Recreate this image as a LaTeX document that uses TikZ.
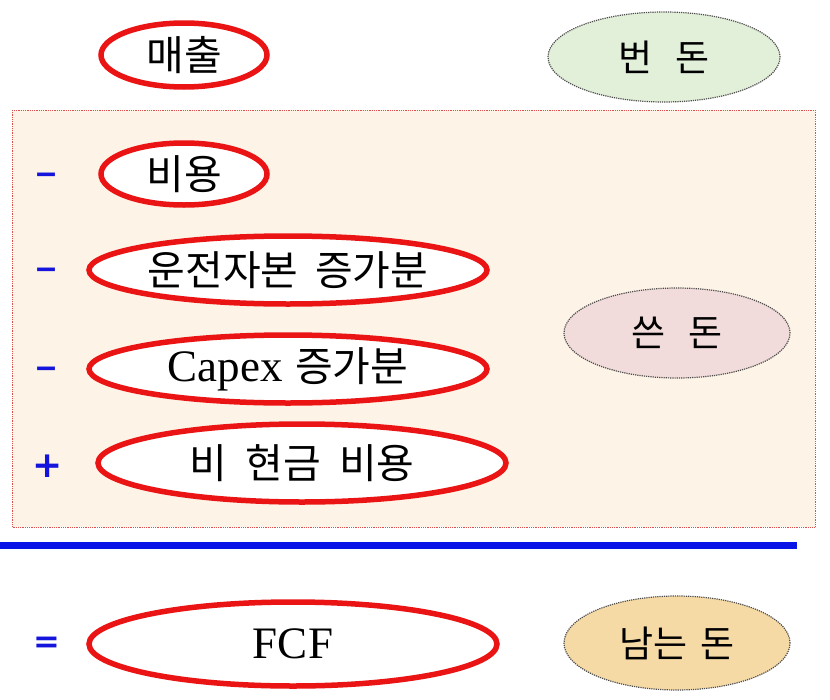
\documentclass[tikz,border=0pt]{standalone}
\usepackage{fontspec}
\usetikzlibrary{shapes.geometric}
\newfontfamily\kr{Noto Sans CJK KR}
\newfontfamily\lat{Liberation Serif}
\newfontfamily\sgn{DejaVu Sans Bold}
\newfontfamily\sgnl{Liberation Sans Bold}
\definecolor{redline}{RGB}{235,20,20}
\definecolor{boxfill}{RGB}{253,243,230}
\definecolor{boxline}{RGB}{220,80,80}
\definecolor{greenfill}{RGB}{226,239,217}
\definecolor{pinkfill}{RGB}{242,220,219}
\definecolor{tanfill}{RGB}{246,218,166}
\definecolor{signblue}{RGB}{20,20,220}
\definecolor{barblue}{RGB}{10,20,230}
\tikzset{
  redell/.style={ellipse, draw=redline, line width=5.5pt, fill=white, inner sep=0pt,
    font=\kr\fontsize{41}{44}\selectfont},
  sideell/.style={ellipse, draw=black!70, densely dotted, line width=1.2pt, inner sep=0pt,
    font=\kr\fontsize{37}{40}\selectfont},
  plustxt/.style={text=signblue, font=\sgn\fontsize{36}{38}\selectfont, inner sep=0pt},
  eqtxt/.style={text=signblue, font=\sgn\fontsize{32}{34}\selectfont, inner sep=0pt},
  minustxt/.style={text=signblue, font=\sgnl\fontsize{36}{38}\selectfont, inner sep=0pt},
}
\begin{document}
\begin{tikzpicture}[x=1pt,y=-1pt]
\useasboundingbox (0,0) rectangle (830,699);
\fill[white] (0,0) rectangle (830,699);
% dotted box
\draw[boxline, densely dotted, line width=0.8pt, fill=boxfill] (12,110) rectangle (815,527);
% red ellipses
\node[redell, minimum width=166pt, minimum height=64pt] (sales) at (184,55) {매출};
\node[redell, minimum width=166pt, minimum height=62pt] (cost) at (184,174) {비용};
\node[redell, minimum width=398pt, minimum height=68pt] (wc) at (288,270) {운전자본\hspace{0.4em}증가분};
\node[redell, minimum width=398pt, minimum height=68pt] (capex) at (288,369) {{\lat\fontsize{45}{48}\selectfont Capex}\hspace{0.3em}증가분};
\node[redell, minimum width=408pt, minimum height=78pt] (noncash) at (302,463) {비\hspace{0.45em}현금\hspace{0.45em}비용};
\node[redell, minimum width=408pt, minimum height=84pt] (fcf) at (293,644) {\lat\fontsize{45}{48}\selectfont FCF};
% side ellipses
\node[sideell, fill=greenfill, minimum width=232pt, minimum height=90pt] (earned) at (664,57) {번\hspace{0.6em}돈};
\node[sideell, fill=pinkfill, minimum width=226pt, minimum height=90pt] (spent) at (677,333) {쓴\hspace{0.6em}돈};
\node[sideell, fill=tanfill, minimum width=226pt, minimum height=94pt] (left) at (677,643) {남는\hspace{0.35em}돈};
% signs
\node[minustxt] (s1) at (47,179) {–};
\node[minustxt] (s2) at (47,274) {–};
\node[minustxt] (s3) at (47,373) {–};
\node[plustxt] (s4) at (48,466) {+};
\node[eqtxt] (s5) at (47,645) {=};
% blue bar
\coordinate (barL) at (0,545);
\coordinate (barR) at (797,545);
\draw[barblue, line width=7pt] (barL) -- (barR);
\end{tikzpicture}
\end{document}
